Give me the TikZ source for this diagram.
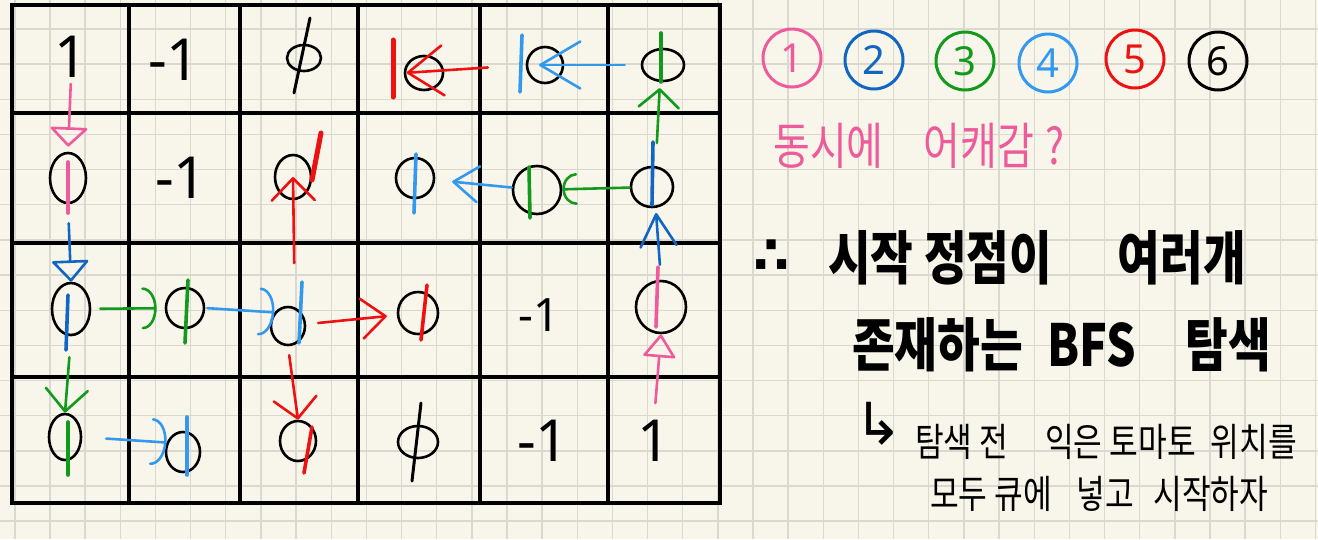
\documentclass[tikz,border=0pt]{standalone}
\usepackage{fontspec}
\setmainfont{Noto Sans CJK KR}
\newfontfamily\hand[FakeStretch=0.8]{Noto Sans CJK KR}
\newfontfamily\digitfont{Noto Sans}
\newfontfamily\symbolfont{DejaVu Sans}
\usetikzlibrary{shapes.geometric,arrows.meta}

\definecolor{paper}{HTML}{F8F6EB}
\definecolor{ruling}{HTML}{DAD8CF}
\definecolor{day1}{HTML}{EE5A9A}
\definecolor{day2}{HTML}{1166C4}
\definecolor{day3}{HTML}{119A1B}
\definecolor{day4}{HTML}{3399EE}
\definecolor{day5}{HTML}{EE1111}
\definecolor{day6}{HTML}{000000}

\begin{document}
\begin{tikzpicture}[x=1pt, y=-1pt,
  zero/.style={ellipse, draw, line width=2.6pt, inner sep=0pt},
  num/.style={inner sep=0pt, font=\digitfont\fontsize{58}{58}\selectfont},
  tally/.style={line width=3.6pt, line cap=round},
  go/.style={line width=2.6pt, line cap=round},
  legend/.style={circle, draw, line width=3pt, minimum size=58pt, inner sep=0pt, font=\digitfont\fontsize{40}{40}\selectfont},
  note/.style={anchor=west, inner sep=0pt}]

\fill[paper] (0,0) rectangle (1318,539);
\useasboundingbox (0,0) rectangle (1318,539);
\foreach \i in {0,...,37}
  \draw[ruling, line width=1.4pt] ({14.85+35.15*\i},0) -- ({14.85+35.15*\i},539);
\foreach \j in {0,...,14}
  \draw[ruling, line width=1.4pt] (0,{29+35.15*\j}) -- (1318,{29+35.15*\j});

% table
\draw[line width=3.2pt] (12,5) rectangle (720,503);
\foreach \x in {129,240,358,480,608}
  \draw[line width=3.2pt] (\x,5) -- (\x,503);
\foreach \y in {113,243,377}
  \draw[line width=3.2pt] (12,\y) -- (720,\y);

% cells
\node[num] (n00) at (71,57) {1};
\node[num] (n01) at (174,60) {-1};
\node[num] (n11) at (181,178) {-1};
\node[num, font=\digitfont\fontsize{46}{46}\selectfont] (n24) at (539,315) {-1};
\node[num] (n34) at (543,441) {-1};
\node[num] (n35) at (654,441) {1};

\node[zero, minimum width=34pt, minimum height=26pt] (z02) at (304,58) {};
\node[zero, minimum width=38pt, minimum height=34pt] (z03) at (424,73) {};
\node[zero, minimum width=36pt, minimum height=36pt] (z04) at (545,65) {};
\node[zero, minimum width=42pt, minimum height=32pt] (z05) at (663,65) {};
\node[zero, minimum width=36pt, minimum height=50pt] (z10) at (68,178) {};
\node[zero, minimum width=36pt, minimum height=44pt] (z12) at (293,177) {};
\node[zero, minimum width=38pt, minimum height=40pt] (z13) at (415,178) {};
\node[zero, minimum width=48pt, minimum height=48pt] (z14) at (537,190) {};
\node[zero, minimum width=42pt, minimum height=40pt] (z15) at (652,187) {};
\node[zero, minimum width=38pt, minimum height=52pt] (z20) at (71,309) {};
\node[zero, minimum width=38pt, minimum height=40pt] (z21) at (185,308) {};
\node[zero, minimum width=34pt, minimum height=38pt] (z22) at (288,326) {};
\node[zero, minimum width=40pt, minimum height=42pt] (z23) at (418,313) {};
\node[zero, minimum width=50pt, minimum height=52pt] (z25) at (661,307) {};
\node[zero, minimum width=32pt, minimum height=46pt] (z30) at (65,437) {};
\node[zero, minimum width=34pt, minimum height=40pt] (z31) at (183,452) {};
\node[zero, minimum width=36pt, minimum height=40pt] (z32) at (298,441) {};
\node[zero, minimum width=40pt, minimum height=32pt] (z33) at (418,442) {};

% tallies
\draw[tally, day6, line width=3pt] (310,18) -- (294,93);
\draw[tally, day6, line width=3pt] (421,403) -- (412,481);
\draw[tally, day1] (68,162) -- (68,213);
\draw[tally, day1] (658,267) -- (656,327);
\draw[tally, day2] (653,142) -- (652,205);
\draw[tally, day2] (68,295) -- (66,350);
\draw[tally, day3] (661,33) -- (661,82);
\draw[tally, day3] (529,167) -- (530,218);
\draw[tally, day3] (188,280) -- (185,343);
\draw[tally, day3] (68,422) -- (68,475);
\draw[tally, day4] (522,35) -- (520,92);
\draw[tally, day4] (416,154) -- (414,213);
\draw[tally, day4] (302,282) -- (299,343);
\draw[tally, day4] (187,417) -- (187,475);
\draw[tally, day5, line width=5pt] (393,40) -- (393,97);
\draw[tally, day5, line width=5pt] (321,133) -- (312,180);
\draw[tally, day5] (427,285) -- (421,340);
\draw[tally, day5] (312,427) -- (304,473);

% spreading
\draw[go, day1, -{Triangle[open, length=20pt, width=40pt, round]}, shorten <=6pt, shorten >=5pt] (n00.south) -- (z10.north);
\draw[go, day1, -{Triangle[open, length=24pt, width=34pt, round]}, shorten <=17pt] (n35.north) -- (z25.south);
\draw[go, day2, -{Triangle[open, length=22pt, width=39pt, round]}, shorten <=19pt] (z10.south) -- (z20.north);
\draw[go, day2, -{Straight Barb[length=32pt, width=36pt, round]}, shorten <=15pt, shorten >=5pt] (z25.north) -- (z15.280);
\draw[go, day3, -{Arc Barb[length=14pt, width=42pt, round]}, shorten <=9pt, shorten >=8pt] (z20) -- (z21);
\draw[go, day3, -{Straight Barb[length=22pt, width=42pt, round]}, shorten <=21pt] (z20.south) -- (z30.north);
\draw[go, day3, -{Arc Barb[length=14pt, width=32pt, round]}] (z15) -- (z14);
\draw[go, day3, -{Straight Barb[length=18pt, width=40pt, round]}, shorten <=23pt, shorten >=6pt] (z15.80) -- (z05.260);
\draw[go, day4, -{Arc Barb[length=15pt, width=48pt, round]}, shorten <=2pt] (z21.east) -- (z22.135);
\draw[go, day4, -{Arc Barb[length=15pt, width=47pt, round]}, shorten <=24pt] (z30.east) -- (z31.150);
\draw[go, day4, -{Straight Barb[length=25pt, width=36pt, round]}, shorten >=17pt] (z14) -- (z13);
\draw[go, day4, -{Straight Barb[length=40pt, width=47pt, round]}, shorten <=16pt, shorten >=-6pt] (z05.west) -- (z04.center);
\draw[go, day5, -{Straight Barb[length=24pt, width=40pt, round]}, shorten <=12pt, shorten >=10pt] (z22) -- (z23);
\draw[go, day5, -{Straight Barb[length=20pt, width=43pt, round]}, shorten <=9pt] (z22.south) -- (z32.north);
\draw[go, day5, -{Straight Barb[length=22pt, width=43pt, round]}, shorten <=44pt] (z22.70) -- (z12.center);
\draw[go, day5, -{Straight Barb[length=35pt, width=50pt, round]}, shorten <=38pt, shorten >=3pt] (z04.west) -- (z03.west);

% legend
\node[legend, draw=day1, text=day1] (d1) at (792,58) {1};
\node[legend, draw=day2, text=day2] (d2) at (874,60) {2};
\node[legend, draw=day3, text=day3] (d3) at (965,61) {3};
\node[legend, draw=day4, text=day4] (d4) at (1048,63) {4};
\node[legend, draw=day5, text=day5] (d5) at (1135,59) {5};
\node[legend, draw=day6, text=day6] (d6) at (1218,61) {6};

% notes
\node[note, text=day1, font=\hand\fontsize{50}{50}\selectfont] (q) at (773,146) {동시에 \hspace{31pt}어캐감\hspace{12pt}?};
\node[inner sep=0pt, font=\symbolfont\bfseries\fontsize{52}{52}\selectfont] (thus) at (772,257) {∴};
\node[note, font=\hand\bfseries\fontsize{58}{58}\selectfont] (t1) at (828,258) {시작 정점이 \hspace{55pt}여러개};
\node[note, font=\hand\bfseries\fontsize{58}{58}\selectfont] (t2) at (852,345) {존재하는 \hspace{14pt}BFS \hspace{39pt}탐색};
\node[inner sep=0pt, font=\symbolfont\fontsize{58}{58}\selectfont] (hook) at (879,424) {↳};
\node[note, font=\hand\fontsize{39}{39}\selectfont] (t3) at (915,442) {탐색 전 \hspace{30pt}익은 토마토 \hspace{8pt}위치를};
\node[note, font=\hand\fontsize{39}{39}\selectfont] (t4) at (930,494) {모두 큐에 \hspace{18pt}넣고 \hspace{12pt}시작하자};

\end{tikzpicture}
\end{document}
